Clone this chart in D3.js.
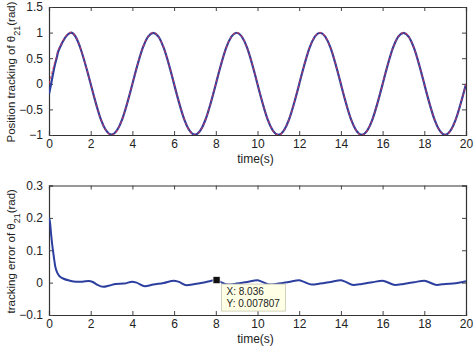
<!DOCTYPE html>
<html>
<head>
<meta charset="utf-8">
<script src="https://cdn.jsdelivr.net/npm/d3@7"></script>
<style>
  html, body { margin: 0; padding: 0; background: #fff; }
  svg { display: block; font-family: "Liberation Sans", Arial, sans-serif; }
</style>
</head>
<body>
<svg id="chart" width="474" height="346"></svg>
<script>
// Sample times (s) for the position plot
const posTimes = [0, 0.1, 0.2, 0.3, 0.4, 0.5, 1, 1.5, 2, 2.5, 3, 3.5, 4, 4.5, 5, 5.5, 6, 6.5, 7, 7.5, 8,
  8.5, 9, 9.5, 10, 10.5, 11, 11.5, 12, 12.5, 13, 13.5, 14, 14.5, 15, 15.5, 16, 16.5, 17, 17.5, 18,
  18.5, 19, 19.5, 20];
// Desired trajectory θ21 (rad)
const refValues = [0, 0.156, 0.309, 0.454, 0.588, 0.707, 1, 0.707, 0, -0.707, -1, -0.707, 0, 0.707, 1,
  0.707, 0, -0.707, -1, -0.707, 0, 0.707, 1, 0.707, 0, -0.707, -1, -0.707, 0, 0.707, 1, 0.707, 0,
  -0.707, -1, -0.707, 0, 0.707, 1, 0.707, 0, -0.707, -1, -0.707, 0];
// Measured θ21 (rad)
const actualValues = [-0.2, -0.004, 0.21, 0.40, 0.56, 0.69, 0.994, 0.704, -0.003, -0.71, -0.99, -0.704, -0.003,
  0.705, 0.994, 0.706, -0.006, -0.71, -0.994, -0.707, -0.008, 0.706, 0.997, 0.705, -0.007, -0.71,
  -0.997, -0.709, -0.007, 0.705, 0.997, 0.705, -0.007, -0.71, -0.996, -0.708, -0.006, 0.706, 0.996,
  0.706, -0.006, -0.71, -0.996, -0.705, -0.004];

// Tracking error of θ21 (rad)
const errTimes = [0, 0.05, 0.1, 0.15, 0.2, 0.3, 0.4, 0.5, 0.7, 1.0, 1.3, 1.6, 1.9, 2.1, 2.3, 2.6, 2.9, 3.2,
  3.6, 4.0, 4.2, 4.6, 5.0, 5.5, 6.0, 6.2, 6.6, 7.0, 7.5, 8.036, 8.2, 8.6, 9.0, 9.5, 10.0, 10.2, 10.6,
  11.0, 11.5, 12.0, 12.2, 12.6, 13.0, 13.5, 14.0, 14.2, 14.6, 15.0, 15.5, 16.0, 16.2, 16.6, 17.0,
  17.5, 18.0, 18.2, 18.6, 19.0, 19.5, 20.0];
const errValues = [0.2, 0.185, 0.15, 0.12, 0.095, 0.05, 0.03, 0.02, 0.012, 0.006, 0.003, 0.003, 0.005,
  0.002, -0.006, -0.013, -0.009, -0.004, -0.003, 0.003, 0.0, -0.011, -0.006, -0.001, 0.006, 0.003,
  -0.008, -0.004, 0.001, 0.007807, 0.003, -0.006, -0.003, 0.002, 0.007, 0.003, -0.006, -0.003,
  0.002, 0.007, 0.003, -0.006, -0.003, 0.002, 0.007, 0.003, -0.007, -0.004, 0.001, 0.006, 0.002,
  -0.007, -0.004, 0.001, 0.006, 0.002, -0.007, -0.004, -0.002, 0.004];

// Axis ticks
const xTicks = [0, 2, 4, 6, 8, 10, 12, 14, 16, 18, 20];
const posTicks = [-1, -0.5, 0, 0.5, 1, 1.5];
const errTicks = [-0.1, 0, 0.1, 0.2, 0.3];

// Data cursor
const tipX = [8.036];
const tipY = [0.007807];

const FONT = '"Liberation Sans", Arial, sans-serif';
const svg = d3.select("#chart");
const left = 49, right = 466;
const blue = "#2c3f9f", red = "#e8334f";

function drawPanel(cfg) {
  const x = d3.scaleLinear().domain([0, 20]).range([left, right]);
  const y = d3.scaleLinear().domain(cfg.domain).range([cfg.bottom, cfg.top]);
  const g = svg.append("g");
  const h = cfg.bottom - cfg.top;
  const w = right - left;

  const fmt = d => d3.format("")(d);
  // box axes with ticks pointing inward
  g.append("g").attr("transform", `translate(0,${cfg.bottom})`)
    .call(d3.axisBottom(x).tickValues(xTicks).tickSize(-4).tickPadding(4).tickFormat(fmt));
  g.append("g").attr("transform", `translate(0,${cfg.top})`)
    .call(d3.axisTop(x).tickValues(xTicks).tickSize(-4).tickFormat(""));
  g.append("g").attr("transform", `translate(${left},0)`)
    .call(d3.axisLeft(y).tickValues(cfg.ticks).tickSize(-4).tickPadding(6).tickFormat(fmt));
  g.append("g").attr("transform", `translate(${right},0)`)
    .call(d3.axisRight(y).tickValues(cfg.ticks).tickSize(-4).tickFormat(""));
  g.selectAll("g").attr("font-family", FONT);
  g.selectAll(".domain").attr("stroke", "#333").attr("stroke-width", 1.2);
  g.selectAll(".tick line").attr("stroke", "#444");
  g.selectAll(".tick text").attr("fill", "#222").style("font-size", "12px").style("font-family", FONT);

  const clip = "clip" + cfg.id;
  svg.append("clipPath").attr("id", clip)
    .append("rect").attr("x", left).attr("y", cfg.top).attr("width", w).attr("height", h);
  const plot = svg.append("g").attr("clip-path", `url(#${clip})`);

  cfg.lines.forEach(l => {
    const line = d3.line().x((d, i) => x(l.t[i])).y(d => y(d)).curve(cfg.curve);
    plot.append("path").datum(l.v).attr("d", line)
      .attr("fill", "none").attr("stroke", l.color).attr("stroke-width", l.width)
      .attr("stroke-dasharray", l.dash || null).attr("opacity", l.opacity || 1);
  });

  // x label
  svg.append("text").attr("x", (left + right) / 2 - 2).attr("y", cfg.bottom + 28)
    .attr("text-anchor", "middle").attr("fill", "#222").style("font-size", "12px").text("time(s)");

  // y label with θ21 subscript
  const yl = svg.append("text")
    .attr("transform", `translate(15,${(cfg.top + cfg.bottom) / 2 + 1}) rotate(-90)`)
    .attr("text-anchor", "middle").attr("fill", "#222").style("font-size", "11.5px");
  yl.append("tspan").text(cfg.ylabel + "θ");
  yl.append("tspan").attr("baseline-shift", "sub").style("font-size", "9px").text("21");
  yl.append("tspan").text("(rad)");

  return { x, y, g };
}

drawPanel({
  id: "pos", top: 7, bottom: 135, domain: [-1, 1.5], ticks: posTicks,
  ylabel: "Position tracking of ", curve: d3.curveNatural,
  lines: [
    { t: posTimes, v: actualValues, color: blue, width: 2.2 },
    { t: posTimes, v: refValues, color: red, width: 1.2, dash: "3,2", opacity: 0.7 }
  ]
});

const err = drawPanel({
  id: "err", top: 185.5, bottom: 315, domain: [-0.1, 0.3], ticks: errTicks,
  ylabel: "tracking error of ", curve: d3.curveMonotoneX,
  lines: [{ t: errTimes, v: errValues, color: blue, width: 2 }]
});

// data cursor marker and tooltip
const mx = err.x(tipX[0]), my = err.y(tipY[0]);
svg.append("rect").attr("x", mx - 3.5).attr("y", my - 3.5).attr("width", 7).attr("height", 7)
  .attr("fill", "#111").attr("stroke", "#fff").attr("stroke-width", 0.6);
const tip = svg.append("g").attr("transform", `translate(${mx + 5},${my + 4})`);
tip.append("rect").attr("width", 64).attr("height", 27)
  .attr("fill", "#ffffe6").attr("stroke", "#c8c8b0").attr("stroke-width", 0.8);
tip.append("text").attr("x", 5).attr("y", 11).style("font-size", "10px").attr("fill", "#222")
  .text("X: " + tipX[0]);
tip.append("text").attr("x", 5).attr("y", 23).style("font-size", "10px").attr("fill", "#222")
  .text("Y: " + tipY[0]);
</script>
</body>
</html>
